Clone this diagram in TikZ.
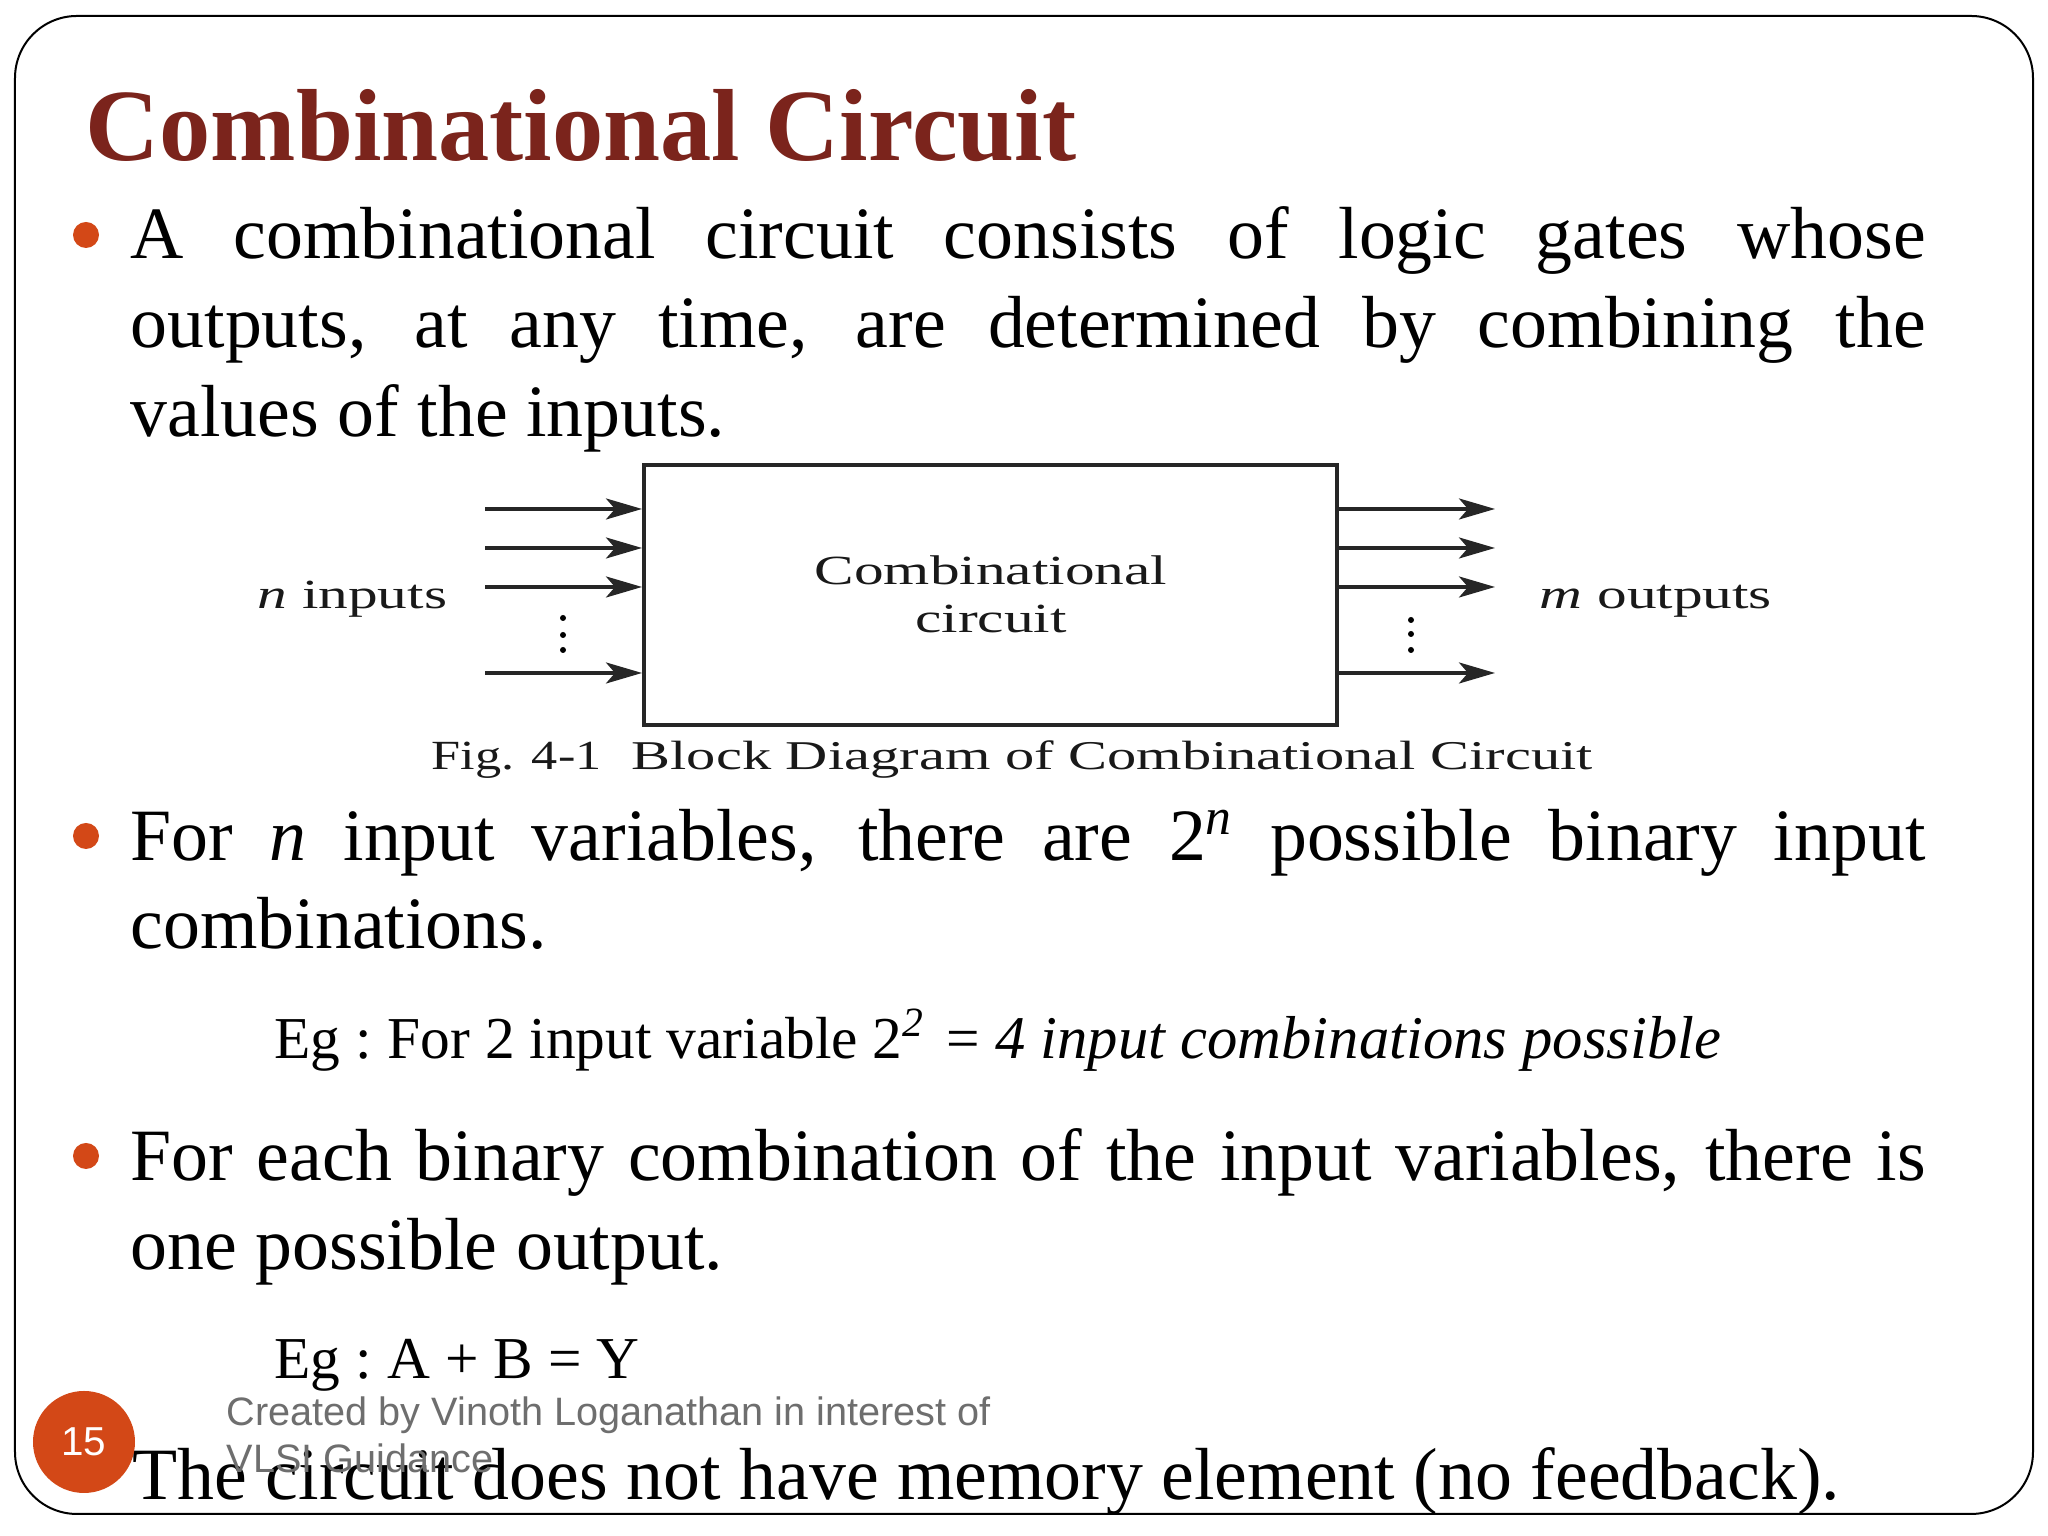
\documentclass[tikz,border=0pt]{standalone}
\usepackage{fontspec}
\usepackage{amsmath, amssymb}
\usepackage{tikz}
\usetikzlibrary{arrows.meta}
\setmainfont{Liberation Serif}
\setsansfont{Liberation Sans}
\newfontfamily\figfont[FakeStretch=1.43]{Liberation Serif}
\newfontfamily\figlabelfont[FakeStretch=1.26]{Liberation Serif}

\begin{document}
\begin{tikzpicture}
\tikzstyle{titleline}=[anchor=base west, inner sep=0, text=titlered, font=\fontsize{29.15}{34}\selectfont\bfseries]
\tikzstyle{bodyline}=[anchor=base west, inner sep=0, font=\fontsize{21}{25}\selectfont]
\tikzstyle{egline}=[anchor=base west, inner sep=0, font=\fontsize{16.9}{20}\selectfont]
\tikzstyle{noteline}=[anchor=base west, inner sep=0, text=notegray, font=\sffamily\fontsize{11.28}{13}\selectfont]
\tikzstyle{figtext}=[inner sep=0, text=black!90, font=\figfont\fontsize{11.8}{14}\selectfont]
\tikzstyle{bullet}=[circle, fill=accent, inner sep=0, minimum size=0.26cm]
\tikzstyle{vdot}=[circle, fill=black, inner sep=0, minimum size=0.06cm]
\tikzstyle{signal}=[line width=0.035cm, draw=black!85, -{Stealth[length=0.36cm, width=0.21cm, inset=0.09cm]}]
\definecolor{titlered}{HTML}{7B241C}
\definecolor{accent}{HTML}{D34817}
\definecolor{notegray}{HTML}{6E6E6E}

\useasboundingbox (0,0) rectangle (20.48,15.36);
\draw[line width=0.02cm, rounded corners=0.62cm, fill=white] (0.15,0.22) rectangle (20.33,15.2);

\node (title) at (0.85,13.75) [titleline] {Combinational Circuit};

\node (b1) at (0.86,13.01) [bullet] {};
\node (l1) at (1.3,12.775) [bodyline] {\makebox[17.95cm][s]{A combinational circuit consists of logic gates whose}};
\node (l2) at (1.3,11.885) [bodyline] {\makebox[17.95cm][s]{outputs, at any time, are determined by combining the}};
\node (l3) at (1.3,10.995) [bodyline] {values of the inputs.};

% block diagram
\node (block) at (9.905,9.41) [draw=black!85, line width=0.04cm, minimum width=6.93cm, minimum height=2.6cm, inner sep=0] {};
\node (name1) at (9.91,9.51) [figtext, anchor=base] {Combinational};
\node (name2) at (9.91,9.03) [figtext, anchor=base] {circuit};

\coordinate (in1) at (4.85,10.27);
\coordinate (in2) at (4.85,9.88);
\coordinate (in3) at (4.85,9.49);
\coordinate (in4) at (4.85,8.63);
\coordinate (out1) at (14.95,10.27);
\coordinate (out2) at (14.95,9.88);
\coordinate (out3) at (14.95,9.49);
\coordinate (out4) at (14.95,8.63);

\draw[signal] (in1) -- (in1 -| block.west);
\draw[signal] (in2) -- (in2 -| block.west);
\draw[signal] (in3) -- (in3 -| block.west);
\draw[signal] (in4) -- (in4 -| block.west);
\draw[signal] (out1 -| block.east) -- (out1);
\draw[signal] (out2 -| block.east) -- (out2);
\draw[signal] (out3 -| block.east) -- (out3);
\draw[signal] (out4 -| block.east) -- (out4);

\node (d1) at (5.63,9.18) [vdot] {};
\node (d2) at (5.63,9.01) [vdot] {};
\node (d3) at (5.63,8.86) [vdot] {};
\node (d4) at (14.11,9.16) [vdot] {};
\node (d5) at (14.11,9.02) [vdot] {};
\node (d6) at (14.11,8.86) [vdot] {};

\node (inputs) at (2.57,9.27) [figtext, anchor=base west] {\textit{n} inputs};
\node (outputs) at (15.39,9.27) [figtext, anchor=base west] {\textit{m} outputs};
\node (caption1) at (4.31,7.66) [figtext, anchor=base west, font=\figlabelfont\fontsize{11.8}{14}\selectfont] {Fig. 4-1};
\node (caption2) at (6.31,7.66) [figtext, anchor=base west, font=\figfont\fontsize{11.63}{14}\selectfont] {Block Diagram of Combinational Circuit};

\node (b2) at (0.86,7.0) [bullet] {};
\node (l4) at (1.3,6.755) [bodyline] {\makebox[17.95cm][s]{For \textit{n} input variables, there are 2\textsuperscript{\textit{n}} possible binary input}};
\node (l5) at (1.3,5.875) [bodyline] {combinations.};
\node (eg1) at (2.74,4.77) [egline] {Eg :\kern-0.04cm{} For 2 input variable 2\textsuperscript{\textit{2}}\kern0.07cm{} = \textit{\fontsize{17.25}{20}\selectfont 4 input combinations possible}};

\node (b3) at (0.86,3.8) [bullet] {};
\node (l6) at (1.3,3.555) [bodyline] {\makebox[17.95cm][s]{For each binary combination of the input variables, there is}};
\node (l7) at (1.3,2.665) [bodyline] {one possible output.};
\node (eg2) at (2.74,1.575) [egline] {Eg :\kern-0.04cm{} A + B = Y};

\node (l8) at (1.32,0.365) [bodyline] {The circuit does not have memory element (no feedback).};

\node (page) at (0.84,0.94) [circle, fill=accent, inner sep=0, minimum size=1.02cm, text=white, font=\sffamily\fontsize{11.5}{13}\selectfont] {15};
\node (note1) at (2.26,1.105) [noteline] {Created by Vinoth Loganathan in interest of};
\node (note2) at (2.26,0.635) [noteline] {VLSI Guidance};
\end{tikzpicture}
\end{document}
